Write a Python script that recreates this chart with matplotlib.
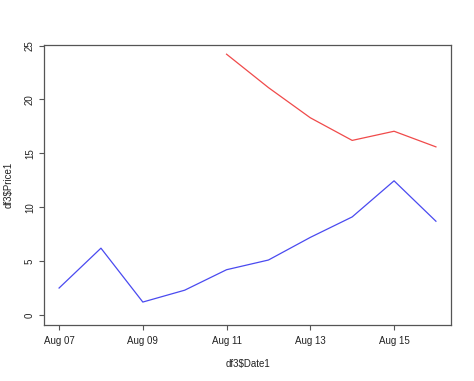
import matplotlib
matplotlib.use("Agg")
import matplotlib.pyplot as plt
import matplotlib.dates as mdates
import numpy as np
import datetime as dt

dates = ["2016-08-07", "2016-08-08", "2016-08-09", "2016-08-10", "2016-08-11",
         "2016-08-12", "2016-08-13", "2016-08-14", "2016-08-15", "2016-08-16"]
price_blue = [2.5, 6.2, 1.2, 2.3, 4.2, 5.1, 7.2, 9.1, 12.45, 8.7]
price_red = [np.nan, np.nan, np.nan, np.nan, 24.2, 21.1, 18.3, 16.2, 17.05, 15.6]
xtick_dates = ["2016-08-07", "2016-08-09", "2016-08-11", "2016-08-13", "2016-08-15"]
yticks = [0, 5, 10, 15, 20, 25]

x = [dt.datetime.strptime(d, "%Y-%m-%d") for d in dates]
xt = [dt.datetime.strptime(d, "%Y-%m-%d") for d in xtick_dates]

plt.rcParams['font.family'] = ['Liberation Sans', 'DejaVu Sans']
fig = plt.figure(figsize=(4.74, 3.81), dpi=100)
W, H = 474, 381
ax = fig.add_axes([44 / W, (H - 325) / H, (451 - 44) / W, (325 - 44.5) / H])

ax.plot(x, price_blue, color='#4a4af0', lw=0.9)
ax.plot(x, price_red, color='#f04a4a', lw=0.9)

pad = dt.timedelta(days=9 * 0.04)
ax.set_xlim(x[0] - pad, x[-1] + pad)
ax.set_ylim(-0.93, 25.1)

ax.set_xticks(xt)
ax.xaxis.set_major_formatter(mdates.DateFormatter("%b %d"))
ax.set_yticks(yticks)
ax.set_yticklabels([str(v) for v in yticks], rotation=90, va='center')

for s in ax.spines.values():
    s.set_color('#555555')
    s.set_linewidth(0.9)
ax.tick_params(axis='both', direction='out', length=3.6, width=0.8, color='#555555',
               labelsize=7, labelcolor='#222222')
ax.tick_params(axis='x', pad=4)
ax.tick_params(axis='y', pad=3)

fig.text(248 / W, 1 - 364 / H, "df3$Date1", fontsize=7, color='#222222',
         ha='center', va='center')
fig.text(9 / W, 1 - 185 / H, "df3$Price1", fontsize=7, color='#222222',
         ha='center', va='center', rotation=90)

fig.savefig("out.png", dpi=100)
